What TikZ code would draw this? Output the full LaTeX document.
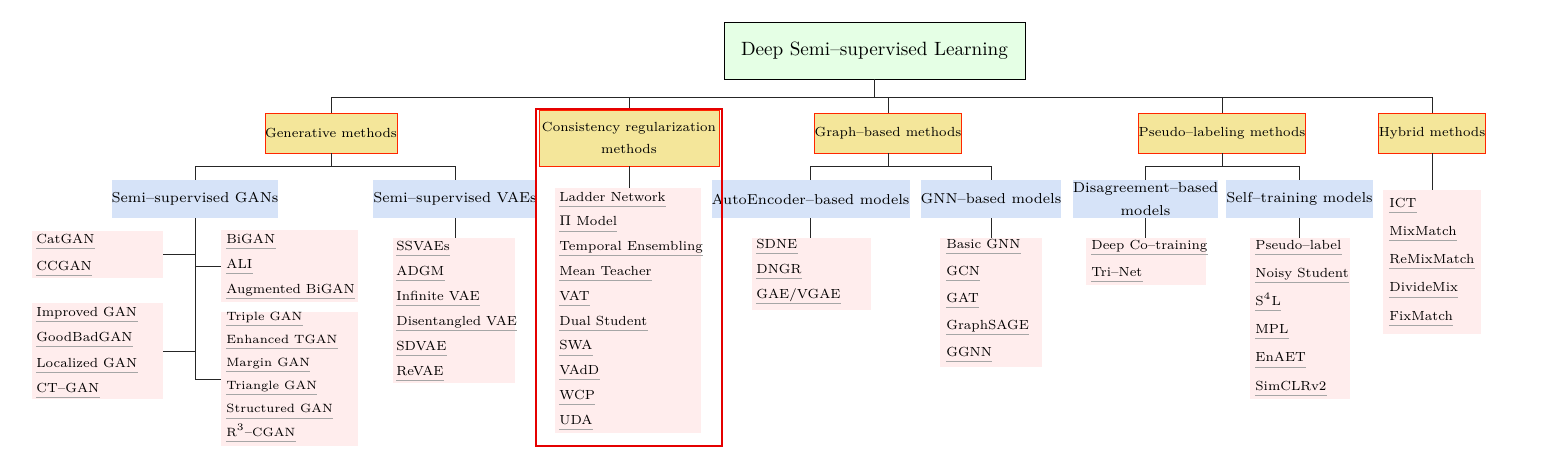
\documentclass[tikz,border=0pt]{standalone}
\begin{document}
\begin{tikzpicture}[x=0.5pt,y=-0.5pt,
  root/.style={draw=black,fill=green!10,minimum width=150.5pt,minimum height=28.5pt,font=\fontsize{9.6}{12}\selectfont},
  cat/.style={draw=red!70!orange,fill=yellow!60!brown!45,font=\fontsize{6.6}{11}\selectfont,align=center,inner sep=0},
  sub/.style={fill={rgb,255:red,214;green,227;blue,248},font=\fontsize{7.2}{11.5}\selectfont,align=center,inner sep=0,minimum height=19pt},
  lbox/.style={fill=red!7,inner sep=0},
  item/.style={anchor=base west,inner sep=0,font=\fontsize{6.6}{8}\selectfont},
  sitem/.style={item,font=\fontsize{6}{8}\selectfont},
  ul/.style={draw=gray!70,line width=0.5pt},
  edge/.style={draw=black!85,line width=0.5pt}]
\useasboundingbox (0,0) rectangle (1565,452);
% root and categories
\node[root] (root) at (874.5,50.5) {Deep Semi--supervised Learning};
\node[cat,minimum width=61pt,minimum height=20pt] (gen) at (331,133) {Generative methods};
\node[cat,minimum width=90pt,minimum height=28pt] (cons) at (629,138) {Consistency regularization\\methods};
\node[cat,minimum width=70pt,minimum height=20pt] (graph) at (888,133) {Graph--based methods};
\node[cat,minimum width=76pt,minimum height=20pt] (pseudo) at (1222,133) {Pseudo--labeling methods};
\node[cat,minimum width=49pt,minimum height=20pt] (hyb) at (1432,133) {Hybrid methods};
\coordinate (bus) at (0,97);
\draw[edge] (root.south) -- (root.south |- bus);
\draw[edge] (gen.north) -- (gen.north |- bus) -- (hyb.north |- bus) -- (hyb.north);
\foreach \n in {cons,graph,pseudo} \draw[edge] (\n.north) -- (\n.north |- bus);
% sub nodes
\node[sub,minimum width=77pt] (gans) at (195,199) {Semi--supervised GANs};
\node[sub,minimum width=82pt] (vaes) at (455,199) {Semi--supervised VAEs};
\node[sub,minimum width=94.5pt] (ae) at (810.5,199) {AutoEncoder--based models};
\node[sub,minimum width=69pt] (gnn) at (991,199) {GNN--based models};
\node[sub,minimum width=65.5pt] (dis) at (1145.5,199) {Disagreement--based\\models};
\node[sub,minimum width=69.5pt] (self) at (1299.5,199) {Self--training models};
\coordinate (b2) at (0,166);
\draw[edge] (gen.south) -- (gen.south |- b2);
\draw[edge] (gans.north) -- (gans.north |- b2) -- (vaes.north |- b2) -- (vaes.north);
\draw[edge] (graph.south) -- (graph.south |- b2);
\draw[edge] (ae.north) -- (ae.north |- b2) -- (gnn.north |- b2) -- (gnn.north);
\draw[edge] (pseudo.south) -- (pseudo.south |- b2);
\draw[edge] (dis.north) -- (dis.north |- b2) -- (self.north |- b2) -- (self.north);
% list boxes
\node[lbox,minimum width=65.5pt,minimum height=23.5pt] (g1) at (97.5,254.5) {};
\node[lbox,minimum width=65.5pt,minimum height=48pt] (g2) at (97.5,351) {};
\node[lbox,minimum width=68.5pt,minimum height=36pt] (g3) at (289.5,266) {};
\node[lbox,minimum width=68.5pt,minimum height=67pt] (g4) at (289.5,379) {};
\node[lbox,minimum width=61pt,minimum height=72.5pt] (lv) at (454,310.5) {};
\node[lbox,minimum width=73pt,minimum height=122.5pt] (lc) at (628,310.5) {};
\node[lbox,minimum width=59.5pt,minimum height=36pt] (la) at (811.5,274) {};
\node[lbox,minimum width=51pt,minimum height=64.5pt] (lg) at (991,302.5) {};
\node[lbox,minimum width=60pt,minimum height=23.5pt] (ld) at (1146,261.5) {};
\node[lbox,minimum width=50pt,minimum height=80.5pt] (ls) at (1300,318.5) {};
\node[lbox,minimum width=49pt,minimum height=72pt] (lh) at (1432,262) {};
\draw[edge] (gans.south) -- (gans.south |- g4.west) -- (g4.west);
\draw[edge] (gans.south |- g1.east) -- (g1.east);
\draw[edge] (gans.south |- g2.east) -- (g2.east);
\draw[edge] (gans.south |- g3.west) -- (g3.west);
\foreach \s/\l in {vaes/lv,cons/lc,ae/la,gnn/lg,dis/ld,self/ls,hyb/lh}
  \draw[edge] (\s.south) -- (\s.south |- \l.north);
% items
\newcommand\itemlist[6]{%
 \foreach \t [count=\i] in {#6} {
  \node[#5] (#1\i) at (#2,{#3+(\i-1)*#4}) {\t};
  \draw[ul] ([yshift=-2.6pt]#1\i.base west) -- ([yshift=-2.6pt]#1\i.base east);
 }}
\itemlist{a}{36}{243}{27}{item}{CatGAN,CCGAN}
\itemlist{b}{36}{316}{25.5}{item}{Improved GAN,GoodBadGAN,Localized GAN,CT--GAN}
\itemlist{c}{226}{243}{25}{item}{BiGAN,ALI,Augmented BiGAN}
\itemlist{d}{226}{320}{23.2}{sitem}{Triple GAN,Enhanced TGAN,Margin GAN,Triangle GAN,Structured GAN,R$^3$--CGAN}
\itemlist{e}{396}{250}{25}{item}{SSVAEs,ADGM,Infinite VAE,Disentangled VAE,SDVAE,ReVAE}
\itemlist{f}{559}{201}{24.8}{item}{Ladder Network,$\Pi$ Model,Temporal Ensembling,Mean Teacher,VAT,Dual Student,SWA,VAdD,WCP,UDA}
\itemlist{h}{756}{248}{25}{item}{SDNE,DNGR,GAE/VGAE}
\itemlist{k}{946}{248}{27}{item}{Basic GNN,GCN,GAT,GraphSAGE,GGNN}
\itemlist{m}{1091}{249}{27}{item}{Deep Co--training,Tri--Net}
\itemlist{p}{1255}{249}{28.2}{item}{Pseudo--label,Noisy Student,S$^4$L,MPL,EnAET,SimCLRv2}
\itemlist{q}{1389}{207}{28.3}{item}{ICT,MixMatch,ReMixMatch,DivideMix,FixMatch}
% highlight
\node[draw=red!90!black,line width=1pt,minimum width=93pt,minimum height=168.5pt,inner sep=0] (hl) at (629,277.5) {};
\end{tikzpicture}
\end{document}
